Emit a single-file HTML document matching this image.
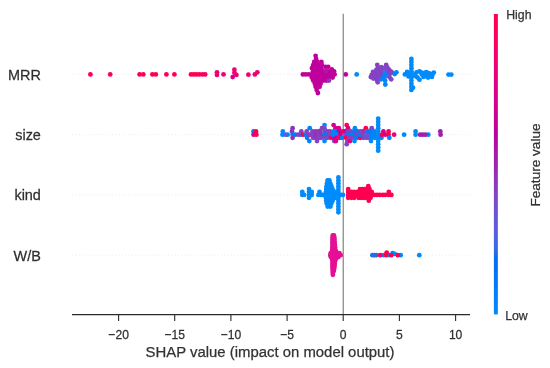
<!DOCTYPE html>
<html><head><meta charset="utf-8"><title>SHAP summary</title>
<style>
html,body{margin:0;padding:0;background:#fff;}
svg{display:block;font-family:"Liberation Sans",sans-serif;}
text{stroke:#333;stroke-width:0.25px;}
</style></head>
<body>
<svg width="550" height="368" viewBox="0 0 550 368">
<defs><linearGradient id="cb" x1="0" y1="0" x2="0" y2="1"><stop offset="0.00%" stop-color="#ff0051"/><stop offset="3.03%" stop-color="#ff0058"/><stop offset="6.06%" stop-color="#fd005f"/><stop offset="9.09%" stop-color="#fa0065"/><stop offset="12.12%" stop-color="#f6006c"/><stop offset="15.15%" stop-color="#f10072"/><stop offset="18.18%" stop-color="#ec0078"/><stop offset="21.21%" stop-color="#e7007e"/><stop offset="24.24%" stop-color="#e10084"/><stop offset="27.27%" stop-color="#db008a"/><stop offset="30.30%" stop-color="#d40090"/><stop offset="33.33%" stop-color="#cd0095"/><stop offset="36.36%" stop-color="#c5009a"/><stop offset="39.39%" stop-color="#bc009f"/><stop offset="42.42%" stop-color="#b30aa3"/><stop offset="45.45%" stop-color="#aa17a7"/><stop offset="48.48%" stop-color="#a01fab"/><stop offset="51.52%" stop-color="#9829b1"/><stop offset="54.55%" stop-color="#9233b9"/><stop offset="57.58%" stop-color="#8a3cc0"/><stop offset="60.61%" stop-color="#8244c7"/><stop offset="63.64%" stop-color="#794cce"/><stop offset="66.67%" stop-color="#6f52d4"/><stop offset="69.70%" stop-color="#6459da"/><stop offset="72.73%" stop-color="#575fdf"/><stop offset="75.76%" stop-color="#4664e4"/><stop offset="78.79%" stop-color="#306ae9"/><stop offset="81.82%" stop-color="#006fed"/><stop offset="84.85%" stop-color="#0074f0"/><stop offset="87.88%" stop-color="#0079f3"/><stop offset="90.91%" stop-color="#007ef6"/><stop offset="93.94%" stop-color="#0082f8"/><stop offset="96.97%" stop-color="#0086fa"/><stop offset="100.00%" stop-color="#008bfb"/></linearGradient></defs>
<rect width="550" height="368" fill="#ffffff"/>
<line x1="343.25" x2="343.25" y1="13.7" y2="315" stroke="#8c8c8c" stroke-width="1.3"/>
<line x1="72.5" x2="470" y1="74.4" y2="74.4" stroke="#dadada" stroke-width="0.6" stroke-dasharray="0.8 2.5"/><line x1="72.5" x2="470" y1="134.65" y2="134.65" stroke="#dadada" stroke-width="0.6" stroke-dasharray="0.8 2.5"/><line x1="72.5" x2="470" y1="194.9" y2="194.9" stroke="#dadada" stroke-width="0.6" stroke-dasharray="0.8 2.5"/><line x1="72.5" x2="470" y1="255.15" y2="255.15" stroke="#dadada" stroke-width="0.6" stroke-dasharray="0.8 2.5"/>
<g><circle cx="90.4" cy="74.4" r="2.4" fill="#ff0051"/><circle cx="110.2" cy="74.4" r="2.4" fill="#ff0051"/><circle cx="139.6" cy="74.4" r="2.4" fill="#ff0051"/><circle cx="143.3" cy="74.4" r="2.4" fill="#ff0051"/><circle cx="152.4" cy="74.4" r="2.4" fill="#ff0051"/><circle cx="155.8" cy="74.4" r="2.4" fill="#ff0051"/><circle cx="166.4" cy="74.4" r="2.4" fill="#ff0051"/><circle cx="174.4" cy="74.4" r="2.4" fill="#ff0051"/><circle cx="191.0" cy="74.4" r="2.4" fill="#ff0051"/><circle cx="193.8" cy="74.4" r="2.4" fill="#ff0051"/><circle cx="196.4" cy="74.4" r="2.4" fill="#ff0051"/><circle cx="199.3" cy="74.4" r="2.4" fill="#ff0051"/><circle cx="202.5" cy="74.4" r="2.4" fill="#fb0063"/><circle cx="205.2" cy="74.4" r="2.4" fill="#fb0063"/><circle cx="217.0" cy="74.9" r="2.4" fill="#f10072"/><circle cx="217.0" cy="72.3" r="2.4" fill="#f10072"/><circle cx="223.5" cy="74.4" r="2.4" fill="#f10072"/><circle cx="234.4" cy="69.7" r="2.4" fill="#f10072"/><circle cx="234.4" cy="72.8" r="2.4" fill="#f10072"/><circle cx="236.4" cy="74.9" r="2.4" fill="#f10072"/><circle cx="248.4" cy="74.7" r="2.4" fill="#f10072"/><circle cx="254.9" cy="74.4" r="2.4" fill="#f10072"/><circle cx="257.3" cy="72.3" r="2.4" fill="#f10072"/><circle cx="232.7" cy="77.1" r="2.4" fill="#d40090"/><circle cx="315.6" cy="55.8" r="2.4" fill="#bf009d"/><circle cx="316.1" cy="58.9" r="2.4" fill="#bf009d"/><circle cx="314.2" cy="62.0" r="2.4" fill="#bf009d"/><circle cx="317.4" cy="62.0" r="2.4" fill="#bf009d"/><circle cx="321.4" cy="62.0" r="2.4" fill="#bf009d"/><circle cx="313.1" cy="65.1" r="2.4" fill="#bf009d"/><circle cx="316.3" cy="65.1" r="2.4" fill="#bf009d"/><circle cx="319.3" cy="65.1" r="2.4" fill="#bf009d"/><circle cx="321.9" cy="65.1" r="2.4" fill="#bf009d"/><circle cx="312.0" cy="68.2" r="2.4" fill="#bf009d"/><circle cx="315.3" cy="68.2" r="2.4" fill="#bf009d"/><circle cx="318.4" cy="68.2" r="2.4" fill="#bf009d"/><circle cx="321.3" cy="68.2" r="2.4" fill="#bf009d"/><circle cx="325.5" cy="66.8" r="2.4" fill="#bf009d"/><circle cx="328.2" cy="66.8" r="2.4" fill="#bf009d"/><circle cx="331.8" cy="69.4" r="2.4" fill="#bf009d"/><circle cx="313.0" cy="71.3" r="2.4" fill="#bf009d"/><circle cx="316.4" cy="71.3" r="2.4" fill="#bf009d"/><circle cx="319.8" cy="71.3" r="2.4" fill="#bf009d"/><circle cx="323.0" cy="71.3" r="2.4" fill="#bf009d"/><circle cx="326.3" cy="71.3" r="2.4" fill="#bf009d"/><circle cx="329.3" cy="71.3" r="2.4" fill="#bf009d"/><circle cx="334.0" cy="71.3" r="2.4" fill="#bf009d"/><circle cx="302.9" cy="74.4" r="2.4" fill="#bf009d"/><circle cx="305.8" cy="74.4" r="2.4" fill="#bf009d"/><circle cx="308.8" cy="74.4" r="2.4" fill="#bf009d"/><circle cx="311.8" cy="74.4" r="2.4" fill="#bf009d"/><circle cx="315.0" cy="74.4" r="2.4" fill="#bf009d"/><circle cx="318.4" cy="74.4" r="2.4" fill="#bf009d"/><circle cx="321.7" cy="74.4" r="2.4" fill="#bf009d"/><circle cx="325.0" cy="74.4" r="2.4" fill="#bf009d"/><circle cx="328.3" cy="74.4" r="2.4" fill="#bf009d"/><circle cx="331.5" cy="74.4" r="2.4" fill="#bf009d"/><circle cx="334.6" cy="74.4" r="2.4" fill="#bf009d"/><circle cx="311.8" cy="77.5" r="2.4" fill="#bf009d"/><circle cx="315.2" cy="77.5" r="2.4" fill="#bf009d"/><circle cx="318.6" cy="77.5" r="2.4" fill="#bf009d"/><circle cx="322.0" cy="77.5" r="2.4" fill="#bf009d"/><circle cx="325.4" cy="77.5" r="2.4" fill="#bf009d"/><circle cx="328.8" cy="77.5" r="2.4" fill="#bf009d"/><circle cx="332.6" cy="77.5" r="2.4" fill="#bf009d"/><circle cx="313.2" cy="80.6" r="2.4" fill="#bf009d"/><circle cx="316.6" cy="80.6" r="2.4" fill="#bf009d"/><circle cx="320.0" cy="80.6" r="2.4" fill="#bf009d"/><circle cx="323.3" cy="80.6" r="2.4" fill="#bf009d"/><circle cx="326.3" cy="80.6" r="2.4" fill="#bf009d"/><circle cx="314.8" cy="83.7" r="2.4" fill="#bf009d"/><circle cx="318.0" cy="83.7" r="2.4" fill="#bf009d"/><circle cx="320.6" cy="83.7" r="2.4" fill="#bf009d"/><circle cx="315.6" cy="86.8" r="2.4" fill="#bf009d"/><circle cx="319.6" cy="86.8" r="2.4" fill="#bf009d"/><circle cx="316.7" cy="89.9" r="2.4" fill="#bf009d"/><circle cx="317.9" cy="93.0" r="2.4" fill="#bf009d"/><circle cx="328.9" cy="80.6" r="2.4" fill="#9233b9"/><circle cx="326.0" cy="71.3" r="2.4" fill="#aa17a7"/><circle cx="345.8" cy="74.4" r="2.4" fill="#bf009d"/><circle cx="356.7" cy="74.4" r="2.4" fill="#008bfb"/><circle cx="370.8" cy="77.1" r="2.4" fill="#8542c5"/><circle cx="371.7" cy="74.9" r="2.4" fill="#8542c5"/><circle cx="373.0" cy="71.9" r="2.4" fill="#8542c5"/><circle cx="377.3" cy="64.9" r="2.4" fill="#8542c5"/><circle cx="378.2" cy="68.0" r="2.4" fill="#8542c5"/><circle cx="376.4" cy="69.7" r="2.4" fill="#8542c5"/><circle cx="375.1" cy="73.2" r="2.4" fill="#8542c5"/><circle cx="375.6" cy="77.1" r="2.4" fill="#8542c5"/><circle cx="376.9" cy="80.1" r="2.4" fill="#8542c5"/><circle cx="377.7" cy="82.3" r="2.4" fill="#8542c5"/><circle cx="380.3" cy="69.7" r="2.4" fill="#8542c5"/><circle cx="379.9" cy="72.7" r="2.4" fill="#8542c5"/><circle cx="379.0" cy="75.8" r="2.4" fill="#8542c5"/><circle cx="380.3" cy="78.8" r="2.4" fill="#8542c5"/><circle cx="386.2" cy="64.9" r="2.4" fill="#8542c5"/><circle cx="387.3" cy="67.5" r="2.4" fill="#8542c5"/><circle cx="389.0" cy="69.7" r="2.4" fill="#8542c5"/><circle cx="390.8" cy="71.4" r="2.4" fill="#8542c5"/><circle cx="392.1" cy="72.7" r="2.4" fill="#8542c5"/><circle cx="383.4" cy="68.4" r="2.4" fill="#8542c5"/><circle cx="388.2" cy="74.9" r="2.4" fill="#8542c5"/><circle cx="389.5" cy="77.1" r="2.4" fill="#8542c5"/><circle cx="391.2" cy="79.3" r="2.4" fill="#8542c5"/><circle cx="386.4" cy="72.3" r="2.4" fill="#8542c5"/><circle cx="382.3" cy="71.9" r="2.4" fill="#8542c5"/><circle cx="382.5" cy="75.4" r="2.4" fill="#8542c5"/><circle cx="374.2" cy="75.6" r="2.4" fill="#8542c5"/><circle cx="378.0" cy="73.4" r="2.4" fill="#8542c5"/><circle cx="381.5" cy="67.2" r="2.4" fill="#8542c5"/><circle cx="385.0" cy="68.7" r="2.4" fill="#8542c5"/><circle cx="389.8" cy="73.6" r="2.4" fill="#8542c5"/><circle cx="373.4" cy="78.6" r="2.4" fill="#8542c5"/><circle cx="378.5" cy="77.4" r="2.4" fill="#8542c5"/><circle cx="384.7" cy="71.4" r="2.4" fill="#6459da"/><circle cx="386.9" cy="75.8" r="2.4" fill="#6459da"/><circle cx="381.2" cy="79.3" r="2.4" fill="#0086fa"/><circle cx="384.7" cy="74.1" r="2.4" fill="#0086fa"/><circle cx="384.3" cy="77.1" r="2.4" fill="#0086fa"/><circle cx="385.1" cy="80.6" r="2.4" fill="#0086fa"/><circle cx="385.3" cy="84.5" r="2.4" fill="#0086fa"/><circle cx="394.7" cy="74.1" r="2.4" fill="#0086fa"/><circle cx="396.4" cy="72.3" r="2.4" fill="#0086fa"/><circle cx="411.4" cy="58.9" r="2.4" fill="#008bfb"/><circle cx="411.4" cy="62.0" r="2.4" fill="#008bfb"/><circle cx="411.4" cy="65.1" r="2.4" fill="#008bfb"/><circle cx="411.4" cy="68.2" r="2.4" fill="#008bfb"/><circle cx="411.4" cy="71.3" r="2.4" fill="#008bfb"/><circle cx="411.4" cy="74.4" r="2.4" fill="#008bfb"/><circle cx="411.4" cy="77.5" r="2.4" fill="#008bfb"/><circle cx="411.4" cy="80.6" r="2.4" fill="#008bfb"/><circle cx="411.4" cy="83.7" r="2.4" fill="#008bfb"/><circle cx="411.4" cy="86.8" r="2.4" fill="#008bfb"/><circle cx="411.4" cy="89.9" r="2.4" fill="#008bfb"/><circle cx="413.0" cy="87.7" r="2.4" fill="#008bfb"/><circle cx="404.9" cy="74.4" r="2.4" fill="#008bfb"/><circle cx="407.1" cy="71.9" r="2.4" fill="#008bfb"/><circle cx="409.0" cy="74.4" r="2.4" fill="#008bfb"/><circle cx="414.5" cy="74.4" r="2.4" fill="#008bfb"/><circle cx="417.5" cy="77.5" r="2.4" fill="#008bfb"/><circle cx="416.5" cy="72.4" r="2.4" fill="#008bfb"/><circle cx="419.5" cy="71.3" r="2.4" fill="#008bfb"/><circle cx="419.5" cy="79.7" r="2.4" fill="#008bfb"/><circle cx="422.0" cy="74.4" r="2.4" fill="#008bfb"/><circle cx="424.5" cy="72.9" r="2.4" fill="#008bfb"/><circle cx="425.5" cy="75.9" r="2.4" fill="#008bfb"/><circle cx="428.0" cy="77.5" r="2.4" fill="#008bfb"/><circle cx="429.5" cy="73.4" r="2.4" fill="#008bfb"/><circle cx="431.9" cy="76.9" r="2.4" fill="#008bfb"/><circle cx="433.8" cy="72.6" r="2.4" fill="#008bfb"/><circle cx="432.5" cy="74.4" r="2.4" fill="#008bfb"/><circle cx="427.0" cy="74.4" r="2.4" fill="#008bfb"/><circle cx="448.5" cy="74.6" r="2.4" fill="#008bfb"/><circle cx="451.3" cy="74.6" r="2.4" fill="#008bfb"/><circle cx="415.3" cy="76.2" r="2.4" fill="#008bfb"/><circle cx="421.0" cy="72.4" r="2.4" fill="#008bfb"/><circle cx="423.5" cy="76.9" r="2.4" fill="#008bfb"/><circle cx="430.5" cy="75.9" r="2.4" fill="#008bfb"/><circle cx="426.5" cy="72.2" r="2.4" fill="#008bfb"/><circle cx="408.5" cy="76.4" r="2.4" fill="#008bfb"/><circle cx="253.5" cy="131.5" r="2.4" fill="#0084f9"/><circle cx="256.0" cy="131.5" r="2.4" fill="#ff0051"/><circle cx="253.6" cy="134.7" r="2.4" fill="#d40090"/><circle cx="256.4" cy="134.7" r="2.4" fill="#ff0051"/><circle cx="282.8" cy="131.5" r="2.4" fill="#008bfb"/><circle cx="282.5" cy="134.7" r="2.4" fill="#008bfb"/><circle cx="287.6" cy="134.7" r="2.4" fill="#0084f9"/><circle cx="285.4" cy="134.7" r="2.4" fill="#6459da"/><circle cx="292.6" cy="128.2" r="2.4" fill="#9233b9"/><circle cx="292.0" cy="131.5" r="2.4" fill="#9233b9"/><circle cx="292.6" cy="134.7" r="2.4" fill="#007cf5"/><circle cx="292.6" cy="137.8" r="2.4" fill="#9233b9"/><circle cx="295.4" cy="134.7" r="2.4" fill="#007cf5"/><circle cx="300.8" cy="134.7" r="2.4" fill="#007cf5"/><circle cx="298.4" cy="134.7" r="2.4" fill="#8542c5"/><circle cx="301.3" cy="131.5" r="2.4" fill="#8542c5"/><circle cx="303.2" cy="134.7" r="2.4" fill="#ff0051"/><circle cx="305.8" cy="134.7" r="2.4" fill="#007cf5"/><circle cx="306.7" cy="131.5" r="2.4" fill="#8542c5"/><circle cx="309.7" cy="128.2" r="2.4" fill="#0084f9"/><circle cx="309.3" cy="141.1" r="2.4" fill="#0084f9"/><circle cx="307.1" cy="137.8" r="2.4" fill="#007cf5"/><circle cx="310.6" cy="134.7" r="2.4" fill="#ff0051"/><circle cx="309.0" cy="134.7" r="2.4" fill="#8542c5"/><circle cx="312.5" cy="131.5" r="2.4" fill="#8542c5"/><circle cx="313.0" cy="134.7" r="2.4" fill="#8542c5"/><circle cx="313.0" cy="137.8" r="2.4" fill="#8542c5"/><circle cx="315.5" cy="131.5" r="2.4" fill="#9233b9"/><circle cx="316.0" cy="134.7" r="2.4" fill="#9233b9"/><circle cx="316.0" cy="137.8" r="2.4" fill="#9233b9"/><circle cx="318.5" cy="131.5" r="2.4" fill="#8542c5"/><circle cx="319.0" cy="134.7" r="2.4" fill="#8542c5"/><circle cx="319.0" cy="137.8" r="2.4" fill="#8542c5"/><circle cx="321.5" cy="134.7" r="2.4" fill="#9233b9"/><circle cx="321.0" cy="137.8" r="2.4" fill="#8542c5"/><circle cx="317.0" cy="141.1" r="2.4" fill="#8542c5"/><circle cx="320.0" cy="131.5" r="2.4" fill="#9233b9"/><circle cx="324.5" cy="125.1" r="2.4" fill="#008bfb"/><circle cx="324.5" cy="128.2" r="2.4" fill="#764ed0"/><circle cx="324.5" cy="131.5" r="2.4" fill="#8542c5"/><circle cx="324.5" cy="134.7" r="2.4" fill="#007cf5"/><circle cx="324.5" cy="137.8" r="2.4" fill="#8542c5"/><circle cx="324.5" cy="141.1" r="2.4" fill="#008bfb"/><circle cx="327.5" cy="131.5" r="2.4" fill="#8542c5"/><circle cx="327.5" cy="134.7" r="2.4" fill="#007cf5"/><circle cx="327.5" cy="137.8" r="2.4" fill="#8542c5"/><circle cx="322.0" cy="128.2" r="2.4" fill="#8542c5"/><circle cx="330.0" cy="131.5" r="2.4" fill="#8542c5"/><circle cx="330.0" cy="134.7" r="2.4" fill="#8542c5"/><circle cx="331.0" cy="137.8" r="2.4" fill="#ff0051"/><circle cx="333.6" cy="125.1" r="2.4" fill="#d40090"/><circle cx="335.6" cy="128.2" r="2.4" fill="#d40090"/><circle cx="338.8" cy="128.2" r="2.4" fill="#d40090"/><circle cx="336.0" cy="131.5" r="2.4" fill="#007cf5"/><circle cx="339.0" cy="131.5" r="2.4" fill="#c70098"/><circle cx="334.0" cy="134.7" r="2.4" fill="#007cf5"/><circle cx="337.5" cy="134.7" r="2.4" fill="#0084f9"/><circle cx="340.5" cy="134.7" r="2.4" fill="#c70098"/><circle cx="334.3" cy="141.1" r="2.4" fill="#8542c5"/><circle cx="334.0" cy="137.8" r="2.4" fill="#d40090"/><circle cx="337.0" cy="137.8" r="2.4" fill="#df0086"/><circle cx="339.5" cy="137.8" r="2.4" fill="#ff0051"/><circle cx="340.7" cy="131.5" r="2.4" fill="#c70098"/><circle cx="342.0" cy="137.8" r="2.4" fill="#007cf5"/><circle cx="335.9" cy="141.1" r="2.4" fill="#d40090"/><circle cx="343.7" cy="131.5" r="2.4" fill="#ff0051"/><circle cx="332.9" cy="134.7" r="2.4" fill="#0084f9"/><circle cx="333.7" cy="131.5" r="2.4" fill="#0084f9"/><circle cx="346.7" cy="125.1" r="2.4" fill="#ff0051"/><circle cx="348.0" cy="128.2" r="2.4" fill="#d40090"/><circle cx="345.0" cy="131.5" r="2.4" fill="#c70098"/><circle cx="348.0" cy="131.5" r="2.4" fill="#8542c5"/><circle cx="351.0" cy="131.5" r="2.4" fill="#8542c5"/><circle cx="345.5" cy="134.7" r="2.4" fill="#8542c5"/><circle cx="348.5" cy="134.7" r="2.4" fill="#007cf5"/><circle cx="346.0" cy="137.8" r="2.4" fill="#ff0051"/><circle cx="349.0" cy="137.8" r="2.4" fill="#8542c5"/><circle cx="346.7" cy="144.2" r="2.4" fill="#8542c5"/><circle cx="347.3" cy="141.1" r="2.4" fill="#8542c5"/><circle cx="350.0" cy="141.1" r="2.4" fill="#e9007c"/><circle cx="354.9" cy="128.2" r="2.4" fill="#008bfb"/><circle cx="354.5" cy="131.5" r="2.4" fill="#007cf5"/><circle cx="354.5" cy="134.7" r="2.4" fill="#8542c5"/><circle cx="354.5" cy="137.8" r="2.4" fill="#007cf5"/><circle cx="354.5" cy="141.1" r="2.4" fill="#008bfb"/><circle cx="352.0" cy="134.7" r="2.4" fill="#007cf5"/><circle cx="351.5" cy="137.8" r="2.4" fill="#8542c5"/><circle cx="357.5" cy="131.5" r="2.4" fill="#007cf5"/><circle cx="357.5" cy="134.7" r="2.4" fill="#8542c5"/><circle cx="357.5" cy="137.8" r="2.4" fill="#007cf5"/><circle cx="360.3" cy="137.8" r="2.4" fill="#ff0051"/><circle cx="363.0" cy="131.5" r="2.4" fill="#ff0051"/><circle cx="360.0" cy="134.7" r="2.4" fill="#007cf5"/><circle cx="360.5" cy="131.5" r="2.4" fill="#8542c5"/><circle cx="363.0" cy="134.7" r="2.4" fill="#8542c5"/><circle cx="363.5" cy="137.8" r="2.4" fill="#8542c5"/><circle cx="365.8" cy="128.2" r="2.4" fill="#ff0051"/><circle cx="366.0" cy="131.5" r="2.4" fill="#8542c5"/><circle cx="366.0" cy="134.7" r="2.4" fill="#6459da"/><circle cx="366.5" cy="137.8" r="2.4" fill="#764ed0"/><circle cx="369.0" cy="134.7" r="2.4" fill="#6459da"/><circle cx="369.0" cy="137.8" r="2.4" fill="#764ed0"/><circle cx="368.5" cy="131.5" r="2.4" fill="#007cf5"/><circle cx="371.7" cy="128.2" r="2.4" fill="#8542c5"/><circle cx="371.5" cy="131.5" r="2.4" fill="#007cf5"/><circle cx="372.0" cy="134.7" r="2.4" fill="#0084f9"/><circle cx="371.0" cy="141.1" r="2.4" fill="#008bfb"/><circle cx="372.0" cy="137.8" r="2.4" fill="#0084f9"/><circle cx="374.5" cy="134.7" r="2.4" fill="#0084f9"/><circle cx="374.5" cy="131.5" r="2.4" fill="#0084f9"/><circle cx="375.0" cy="137.8" r="2.4" fill="#0084f9"/><circle cx="378.2" cy="118.7" r="2.4" fill="#008bfb"/><circle cx="378.2" cy="121.9" r="2.4" fill="#008bfb"/><circle cx="378.2" cy="125.1" r="2.4" fill="#008bfb"/><circle cx="378.2" cy="128.2" r="2.4" fill="#008bfb"/><circle cx="378.2" cy="131.5" r="2.4" fill="#008bfb"/><circle cx="378.2" cy="134.7" r="2.4" fill="#008bfb"/><circle cx="378.2" cy="137.8" r="2.4" fill="#008bfb"/><circle cx="378.2" cy="141.1" r="2.4" fill="#008bfb"/><circle cx="378.2" cy="144.2" r="2.4" fill="#008bfb"/><circle cx="378.2" cy="147.5" r="2.4" fill="#008bfb"/><circle cx="378.2" cy="150.7" r="2.4" fill="#008bfb"/><circle cx="381.5" cy="137.8" r="2.4" fill="#0084f9"/><circle cx="382.0" cy="134.7" r="2.4" fill="#ff0051"/><circle cx="383.4" cy="131.5" r="2.4" fill="#d40090"/><circle cx="385.3" cy="134.7" r="2.4" fill="#d40090"/><circle cx="388.6" cy="131.5" r="2.4" fill="#ff0051"/><circle cx="388.6" cy="134.7" r="2.4" fill="#ff0051"/><circle cx="389.3" cy="137.8" r="2.4" fill="#0084f9"/><circle cx="394.1" cy="134.7" r="2.4" fill="#f6006c"/><circle cx="404.1" cy="134.7" r="2.4" fill="#008bfb"/><circle cx="415.6" cy="131.5" r="2.4" fill="#008bfb"/><circle cx="415.6" cy="134.7" r="2.4" fill="#008bfb"/><circle cx="428.3" cy="134.7" r="2.4" fill="#008bfb"/><circle cx="420.1" cy="134.7" r="2.4" fill="#9d22ac"/><circle cx="422.7" cy="134.7" r="2.4" fill="#9d22ac"/><circle cx="425.3" cy="134.7" r="2.4" fill="#9d22ac"/><circle cx="440.3" cy="131.5" r="2.4" fill="#a01fab"/><circle cx="440.6" cy="134.7" r="2.4" fill="#a01fab"/><circle cx="302.3" cy="192.0" r="2.4" fill="#008bfb"/><circle cx="302.3" cy="194.9" r="2.4" fill="#008bfb"/><circle cx="304.1" cy="194.9" r="2.4" fill="#008bfb"/><circle cx="309.0" cy="189.1" r="2.4" fill="#008bfb"/><circle cx="309.0" cy="192.0" r="2.4" fill="#008bfb"/><circle cx="309.0" cy="194.9" r="2.4" fill="#008bfb"/><circle cx="309.0" cy="197.8" r="2.4" fill="#008bfb"/><circle cx="311.7" cy="192.0" r="2.4" fill="#008bfb"/><circle cx="311.7" cy="194.9" r="2.4" fill="#008bfb"/><circle cx="319.5" cy="192.0" r="2.4" fill="#008bfb"/><circle cx="318.4" cy="194.9" r="2.4" fill="#008bfb"/><circle cx="320.8" cy="194.9" r="2.4" fill="#008bfb"/><circle cx="322.5" cy="194.9" r="2.4" fill="#008bfb"/><circle cx="327.6" cy="180.4" r="2.4" fill="#008bfb"/><circle cx="329.4" cy="180.4" r="2.4" fill="#008bfb"/><circle cx="327.1" cy="183.3" r="2.4" fill="#008bfb"/><circle cx="330.2" cy="183.3" r="2.4" fill="#008bfb"/><circle cx="326.5" cy="186.2" r="2.4" fill="#008bfb"/><circle cx="328.9" cy="186.2" r="2.4" fill="#008bfb"/><circle cx="331.4" cy="186.2" r="2.4" fill="#008bfb"/><circle cx="326.2" cy="189.1" r="2.4" fill="#008bfb"/><circle cx="328.3" cy="189.1" r="2.4" fill="#008bfb"/><circle cx="330.5" cy="189.1" r="2.4" fill="#008bfb"/><circle cx="332.6" cy="189.1" r="2.4" fill="#008bfb"/><circle cx="325.9" cy="192.0" r="2.4" fill="#008bfb"/><circle cx="328.3" cy="192.0" r="2.4" fill="#008bfb"/><circle cx="330.8" cy="192.0" r="2.4" fill="#008bfb"/><circle cx="333.2" cy="192.0" r="2.4" fill="#008bfb"/><circle cx="324.2" cy="194.9" r="2.4" fill="#008bfb"/><circle cx="326.3" cy="194.9" r="2.4" fill="#008bfb"/><circle cx="328.4" cy="194.9" r="2.4" fill="#008bfb"/><circle cx="330.5" cy="194.9" r="2.4" fill="#008bfb"/><circle cx="332.6" cy="194.9" r="2.4" fill="#008bfb"/><circle cx="334.6" cy="194.9" r="2.4" fill="#008bfb"/><circle cx="336.7" cy="194.9" r="2.4" fill="#008bfb"/><circle cx="338.8" cy="194.9" r="2.4" fill="#008bfb"/><circle cx="340.9" cy="194.9" r="2.4" fill="#008bfb"/><circle cx="343.0" cy="194.9" r="2.4" fill="#008bfb"/><circle cx="325.9" cy="197.8" r="2.4" fill="#008bfb"/><circle cx="328.3" cy="197.8" r="2.4" fill="#008bfb"/><circle cx="330.8" cy="197.8" r="2.4" fill="#008bfb"/><circle cx="333.2" cy="197.8" r="2.4" fill="#008bfb"/><circle cx="326.2" cy="200.7" r="2.4" fill="#008bfb"/><circle cx="328.3" cy="200.7" r="2.4" fill="#008bfb"/><circle cx="330.5" cy="200.7" r="2.4" fill="#008bfb"/><circle cx="332.6" cy="200.7" r="2.4" fill="#008bfb"/><circle cx="326.7" cy="203.6" r="2.4" fill="#008bfb"/><circle cx="329.0" cy="203.6" r="2.4" fill="#008bfb"/><circle cx="331.4" cy="203.6" r="2.4" fill="#008bfb"/><circle cx="327.7" cy="206.5" r="2.4" fill="#008bfb"/><circle cx="330.4" cy="206.5" r="2.4" fill="#008bfb"/><circle cx="338.4" cy="177.5" r="2.4" fill="#008bfb"/><circle cx="338.4" cy="180.4" r="2.4" fill="#008bfb"/><circle cx="338.4" cy="183.3" r="2.4" fill="#008bfb"/><circle cx="338.4" cy="186.2" r="2.4" fill="#008bfb"/><circle cx="338.4" cy="189.1" r="2.4" fill="#008bfb"/><circle cx="338.4" cy="192.0" r="2.4" fill="#008bfb"/><circle cx="338.4" cy="194.9" r="2.4" fill="#008bfb"/><circle cx="338.4" cy="197.8" r="2.4" fill="#008bfb"/><circle cx="338.4" cy="200.7" r="2.4" fill="#008bfb"/><circle cx="338.4" cy="203.6" r="2.4" fill="#008bfb"/><circle cx="338.4" cy="206.5" r="2.4" fill="#008bfb"/><circle cx="338.4" cy="209.4" r="2.4" fill="#008bfb"/><circle cx="338.4" cy="212.3" r="2.4" fill="#008bfb"/><circle cx="335.8" cy="192.0" r="2.4" fill="#008bfb"/><circle cx="335.8" cy="197.8" r="2.4" fill="#008bfb"/><circle cx="348.2" cy="189.1" r="2.4" fill="#ff0051"/><circle cx="348.2" cy="192.0" r="2.4" fill="#ff0051"/><circle cx="348.2" cy="194.9" r="2.4" fill="#ff0051"/><circle cx="348.2" cy="197.8" r="2.4" fill="#ff0051"/><circle cx="351.5" cy="192.0" r="2.4" fill="#ff0051"/><circle cx="352.0" cy="194.9" r="2.4" fill="#ff0051"/><circle cx="351.5" cy="197.8" r="2.4" fill="#ff0051"/><circle cx="354.3" cy="194.9" r="2.4" fill="#ff0051"/><circle cx="354.3" cy="197.8" r="2.4" fill="#ff0051"/><circle cx="354.3" cy="192.0" r="2.4" fill="#ff0051"/><circle cx="368.3" cy="186.2" r="2.4" fill="#ff0051"/><circle cx="360.0" cy="189.1" r="2.4" fill="#ff0051"/><circle cx="362.4" cy="189.1" r="2.4" fill="#ff0051"/><circle cx="364.8" cy="189.1" r="2.4" fill="#ff0051"/><circle cx="367.1" cy="189.1" r="2.4" fill="#ff0051"/><circle cx="369.5" cy="189.1" r="2.4" fill="#ff0051"/><circle cx="357.5" cy="192.0" r="2.4" fill="#ff0051"/><circle cx="359.9" cy="192.0" r="2.4" fill="#ff0051"/><circle cx="362.2" cy="192.0" r="2.4" fill="#ff0051"/><circle cx="364.6" cy="192.0" r="2.4" fill="#ff0051"/><circle cx="367.0" cy="192.0" r="2.4" fill="#ff0051"/><circle cx="369.3" cy="192.0" r="2.4" fill="#ff0051"/><circle cx="371.7" cy="192.0" r="2.4" fill="#ff0051"/><circle cx="356.8" cy="194.9" r="2.4" fill="#ff0051"/><circle cx="359.0" cy="194.9" r="2.4" fill="#ff0051"/><circle cx="361.1" cy="194.9" r="2.4" fill="#ff0051"/><circle cx="363.3" cy="194.9" r="2.4" fill="#ff0051"/><circle cx="365.5" cy="194.9" r="2.4" fill="#ff0051"/><circle cx="367.7" cy="194.9" r="2.4" fill="#ff0051"/><circle cx="369.8" cy="194.9" r="2.4" fill="#ff0051"/><circle cx="372.0" cy="194.9" r="2.4" fill="#ff0051"/><circle cx="358.6" cy="197.8" r="2.4" fill="#ff0051"/><circle cx="361.0" cy="197.8" r="2.4" fill="#ff0051"/><circle cx="363.4" cy="197.8" r="2.4" fill="#ff0051"/><circle cx="365.8" cy="197.8" r="2.4" fill="#ff0051"/><circle cx="368.2" cy="197.8" r="2.4" fill="#ff0051"/><circle cx="370.6" cy="197.8" r="2.4" fill="#ff0051"/><circle cx="368.8" cy="200.7" r="2.4" fill="#ff0051"/><circle cx="374.3" cy="194.9" r="2.4" fill="#ff0051"/><circle cx="377.0" cy="194.9" r="2.4" fill="#ff0051"/><circle cx="379.7" cy="194.9" r="2.4" fill="#ff0051"/><circle cx="382.9" cy="194.9" r="2.4" fill="#ff0051"/><circle cx="385.5" cy="194.9" r="2.4" fill="#ff0051"/><circle cx="388.8" cy="194.9" r="2.4" fill="#ff0051"/><circle cx="388.8" cy="192.0" r="2.4" fill="#ff0051"/><circle cx="391.4" cy="194.9" r="2.4" fill="#ff0051"/><circle cx="332.8" cy="235.5" r="2.4" fill="#e50f96"/><circle cx="333.9" cy="235.5" r="2.4" fill="#e50f96"/><circle cx="332.6" cy="237.4" r="2.4" fill="#e50f96"/><circle cx="334.3" cy="237.4" r="2.4" fill="#e50f96"/><circle cx="332.6" cy="239.4" r="2.4" fill="#e50f96"/><circle cx="334.4" cy="239.4" r="2.4" fill="#e50f96"/><circle cx="332.5" cy="241.4" r="2.4" fill="#e50f96"/><circle cx="334.5" cy="241.4" r="2.4" fill="#e50f96"/><circle cx="332.5" cy="243.3" r="2.4" fill="#e50f96"/><circle cx="334.6" cy="243.3" r="2.4" fill="#e50f96"/><circle cx="332.5" cy="245.3" r="2.4" fill="#e50f96"/><circle cx="334.8" cy="245.3" r="2.4" fill="#e50f96"/><circle cx="332.4" cy="247.3" r="2.4" fill="#e50f96"/><circle cx="335.0" cy="247.3" r="2.4" fill="#e50f96"/><circle cx="332.4" cy="249.2" r="2.4" fill="#e50f96"/><circle cx="335.1" cy="249.2" r="2.4" fill="#e50f96"/><circle cx="332.1" cy="251.2" r="2.4" fill="#e50f96"/><circle cx="334.0" cy="251.2" r="2.4" fill="#e50f96"/><circle cx="336.0" cy="251.2" r="2.4" fill="#e50f96"/><circle cx="330.7" cy="253.2" r="2.4" fill="#e50f96"/><circle cx="332.9" cy="253.2" r="2.4" fill="#e50f96"/><circle cx="335.1" cy="253.2" r="2.4" fill="#e50f96"/><circle cx="337.2" cy="253.2" r="2.4" fill="#e50f96"/><circle cx="339.4" cy="253.2" r="2.4" fill="#e50f96"/><circle cx="330.4" cy="255.2" r="2.4" fill="#e50f96"/><circle cx="332.5" cy="255.2" r="2.4" fill="#e50f96"/><circle cx="334.5" cy="255.2" r="2.4" fill="#e50f96"/><circle cx="336.6" cy="255.2" r="2.4" fill="#e50f96"/><circle cx="338.6" cy="255.2" r="2.4" fill="#e50f96"/><circle cx="340.7" cy="255.2" r="2.4" fill="#e50f96"/><circle cx="330.8" cy="257.1" r="2.4" fill="#e50f96"/><circle cx="332.7" cy="257.1" r="2.4" fill="#e50f96"/><circle cx="334.6" cy="257.1" r="2.4" fill="#e50f96"/><circle cx="336.5" cy="257.1" r="2.4" fill="#e50f96"/><circle cx="338.4" cy="257.1" r="2.4" fill="#e50f96"/><circle cx="332.2" cy="259.1" r="2.4" fill="#e50f96"/><circle cx="334.0" cy="259.1" r="2.4" fill="#e50f96"/><circle cx="335.8" cy="259.1" r="2.4" fill="#e50f96"/><circle cx="332.5" cy="261.1" r="2.4" fill="#e50f96"/><circle cx="335.1" cy="261.1" r="2.4" fill="#e50f96"/><circle cx="332.5" cy="263.0" r="2.4" fill="#e50f96"/><circle cx="334.8" cy="263.0" r="2.4" fill="#e50f96"/><circle cx="332.5" cy="265.0" r="2.4" fill="#e50f96"/><circle cx="334.6" cy="265.0" r="2.4" fill="#e50f96"/><circle cx="332.5" cy="267.0" r="2.4" fill="#e50f96"/><circle cx="334.4" cy="267.0" r="2.4" fill="#e50f96"/><circle cx="332.6" cy="268.9" r="2.4" fill="#e50f96"/><circle cx="334.1" cy="268.9" r="2.4" fill="#e50f96"/><circle cx="332.7" cy="270.9" r="2.4" fill="#e50f96"/><circle cx="333.8" cy="270.9" r="2.4" fill="#e50f96"/><circle cx="332.8" cy="272.9" r="2.4" fill="#e50f96"/><circle cx="332.9" cy="274.8" r="2.4" fill="#e50f96"/><circle cx="372.4" cy="255.2" r="2.4" fill="#266cea"/><circle cx="374.3" cy="255.2" r="2.4" fill="#266cea"/><circle cx="376.3" cy="255.2" r="2.4" fill="#266cea"/><circle cx="383.5" cy="255.2" r="2.4" fill="#008bfb"/><circle cx="380.2" cy="255.2" r="2.4" fill="#ff0051"/><circle cx="389.0" cy="255.2" r="2.4" fill="#008bfb"/><circle cx="386.1" cy="255.2" r="2.4" fill="#ff0051"/><circle cx="386.7" cy="252.6" r="2.4" fill="#ff0051"/><circle cx="392.6" cy="253.2" r="2.4" fill="#008bfb"/><circle cx="394.6" cy="253.9" r="2.4" fill="#008bfb"/><circle cx="391.3" cy="255.2" r="2.4" fill="#ff0051"/><circle cx="400.7" cy="255.2" r="2.4" fill="#008bfb"/><circle cx="397.8" cy="255.2" r="2.4" fill="#ff0051"/><circle cx="419.3" cy="255.2" r="2.4" fill="#008bfb"/></g>
<line x1="72" x2="470" y1="314.65" y2="314.65" stroke="#2b2b2b" stroke-width="1.15"/>
<line x1="118.6" x2="118.6" y1="314.6" y2="320.9" stroke="#2b2b2b" stroke-width="1.1"/><text transform="translate(118.6,338.6) scale(1,1.07)" text-anchor="middle" font-size="12.1" fill="#2e2e2e">−20</text><line x1="174.7" x2="174.7" y1="314.6" y2="320.9" stroke="#2b2b2b" stroke-width="1.1"/><text transform="translate(174.7,338.6) scale(1,1.07)" text-anchor="middle" font-size="12.1" fill="#2e2e2e">−15</text><line x1="230.9" x2="230.9" y1="314.6" y2="320.9" stroke="#2b2b2b" stroke-width="1.1"/><text transform="translate(230.9,338.6) scale(1,1.07)" text-anchor="middle" font-size="12.1" fill="#2e2e2e">−10</text><line x1="287.1" x2="287.1" y1="314.6" y2="320.9" stroke="#2b2b2b" stroke-width="1.1"/><text transform="translate(287.1,338.6) scale(1,1.07)" text-anchor="middle" font-size="12.1" fill="#2e2e2e">−5</text><line x1="343.2" x2="343.2" y1="314.6" y2="320.9" stroke="#2b2b2b" stroke-width="1.1"/><text transform="translate(343.2,338.6) scale(1,1.07)" text-anchor="middle" font-size="12.1" fill="#2e2e2e">0</text><line x1="399.4" x2="399.4" y1="314.6" y2="320.9" stroke="#2b2b2b" stroke-width="1.1"/><text transform="translate(399.4,338.6) scale(1,1.07)" text-anchor="middle" font-size="12.1" fill="#2e2e2e">5</text><line x1="455.6" x2="455.6" y1="314.6" y2="320.9" stroke="#2b2b2b" stroke-width="1.1"/><text transform="translate(455.6,338.6) scale(1,1.07)" text-anchor="middle" font-size="12.1" fill="#2e2e2e">10</text>
<text transform="translate(40.9,79.9) scale(1,1.07)" text-anchor="end" font-size="14.45" fill="#2e2e2e">MRR</text><text transform="translate(40.9,140.2) scale(1,1.07)" text-anchor="end" font-size="14.45" fill="#2e2e2e">size</text><text transform="translate(40.9,200.4) scale(1,1.07)" text-anchor="end" font-size="14.45" fill="#2e2e2e">kind</text><text transform="translate(40.9,260.6) scale(1,1.07)" text-anchor="end" font-size="14.45" fill="#2e2e2e">W/B</text>
<text x="270.05" y="357.3" text-anchor="middle" font-size="14.9" fill="#333">SHAP value (impact on model output)</text>
<rect x="493.9" y="14" width="3.95" height="300.4" fill="url(#cb)"/>
<text x="506.2" y="18.6" font-size="12.3" fill="#333">High</text>
<text x="505.2" y="319.85" font-size="12.3" fill="#333">Low</text>
<text transform="translate(540.1,165) rotate(-90)" text-anchor="middle" font-size="13.6" fill="#333">Feature value</text>
</svg>
</body></html>
